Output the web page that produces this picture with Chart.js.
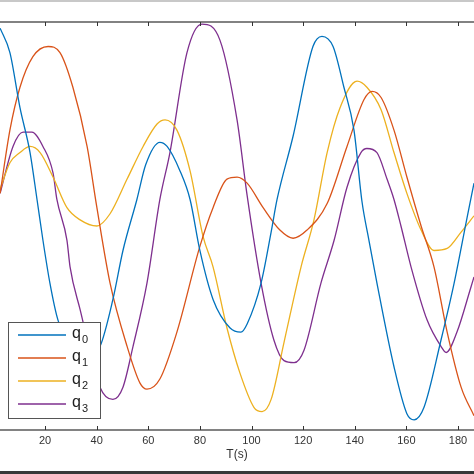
<!DOCTYPE html>
<html>
<head>
    <title>q0 - q3 over time</title>
    <style>
        body {
            margin: 0;
            background-color: #fff;
        }

        #wrap {
            position: relative;
            width: 474px;
            height: 474px;
        }

        .bar-top {
            position: absolute;
            left: 0; top: 0;
            width: 474px; height: 2px;
            background-color: #c8c8c8;
        }

        .bar-bottom {
            position: absolute;
            left: 0; bottom: 0;
            width: 474px; height: 3px;
            background-color: #3a3a3a;
        }
    </style>
</head>
<body>
    <div id="wrap">
        <canvas id="chart" width="474" height="474"></canvas>
        <div class="bar-top"></div>
        <div class="bar-bottom"></div>
    </div>

    <script src="https://cdn.jsdelivr.net/npm/chart.js"></script>
    <script>
// values (time in s, amplitude in plot units)
const xTicks = [20, 40, 60, 80, 100, 120, 140, 160, 180];
const seriesLabels = ['q₀', 'q₁', 'q₂', 'q₃'];
const seriesColors = ['#0072BD', '#D95319', '#EDB120', '#7E2F8E'];

const q0T = [2.6, 6.4, 10.3, 14.2, 16.9, 19.2, 21.9, 25.0, 33.6, 41.3, 46.3, 50.2, 55.6, 59.0, 64.5, 67.3, 72.3, 76.2, 80.0, 85.1, 91.7, 95.9, 98.3, 103.7, 107.6, 109.9, 116.1, 123.8, 127.3, 131.6, 135.8, 139.7, 142.8, 145.5, 148.6, 155.2, 160.2, 163.0, 166.8, 173.4, 178.5, 183.5, 186.2];
const q0V = [0.97, 0.85, 0.58, 0.36, 0.13, -0.07, -0.28, -0.46, -0.66, -0.59, -0.36, -0.12, 0.13, 0.30, 0.41, 0.39, 0.27, 0.13, -0.12, -0.36, -0.50, -0.52, -0.48, -0.28, -0.03, 0.13, 0.44, 0.88, 0.93, 0.88, 0.68, 0.47, 0.12, -0.07, -0.28, -0.69, -0.92, -0.95, -0.89, -0.56, -0.28, 0.04, 0.21];

const q1T = [2.6, 6.4, 10.3, 15.3, 21.2, 25.8, 30.8, 36.3, 40.1, 45.2, 51.8, 56.8, 59.5, 64.5, 71.1, 80.0, 85.1, 90.5, 94.4, 98.3, 104.5, 111.0, 116.1, 121.5, 129.3, 137.0, 143.6, 146.7, 150.2, 155.2, 160.2, 165.7, 170.7, 175.8, 181.2, 186.2];
const q1V = [0.16, 0.47, 0.68, 0.83, 0.88, 0.85, 0.68, 0.39, 0.09, -0.28, -0.59, -0.77, -0.80, -0.75, -0.52, -0.10, 0.09, 0.23, 0.24, 0.21, 0.09, -0.02, -0.06, -0.02, 0.11, 0.39, 0.62, 0.66, 0.63, 0.47, 0.24, 0.00, -0.20, -0.52, -0.79, -0.93];

const q2T = [2.6, 6.4, 10.3, 14.2, 18.1, 23.1, 28.5, 33.6, 40.1, 45.2, 51.8, 58.0, 63.4, 66.5, 71.1, 76.2, 81.2, 85.1, 90.5, 95.5, 101.0, 104.1, 107.6, 112.6, 119.2, 124.2, 129.3, 134.3, 140.9, 144.7, 150.2, 155.2, 160.2, 165.7, 170.7, 175.8, 181.2, 186.2];
const q2V = [0.18, 0.31, 0.36, 0.39, 0.36, 0.24, 0.09, 0.03, 0.00, 0.06, 0.23, 0.39, 0.50, 0.52, 0.47, 0.27, -0.05, -0.20, -0.50, -0.72, -0.89, -0.91, -0.85, -0.57, -0.20, 0.03, 0.36, 0.58, 0.71, 0.68, 0.57, 0.36, 0.16, -0.02, -0.12, -0.11, -0.03, 0.05];

const q3T = [2.6, 7.6, 11.5, 14.9, 19.2, 23.1, 24.6, 28.5, 29.7, 33.6, 41.3, 46.3, 50.2, 54.1, 59.5, 64.5, 68.4, 75.0, 80.8, 87.8, 94.4, 98.3, 103.7, 108.7, 112.6, 116.5, 120.3, 126.9, 132.0, 137.0, 142.4, 144.7, 148.6, 152.5, 155.2, 157.9, 161.8, 168.0, 173.4, 175.4, 179.6, 185.0, 186.2];
const q3V = [0.16, 0.39, 0.46, 0.46, 0.39, 0.26, 0.13, -0.07, -0.20, -0.41, -0.79, -0.85, -0.79, -0.59, -0.28, 0.13, 0.36, 0.85, 0.99, 0.91, 0.52, 0.15, -0.28, -0.56, -0.66, -0.67, -0.61, -0.28, -0.07, 0.19, 0.36, 0.38, 0.36, 0.23, 0.13, 0.00, -0.20, -0.46, -0.59, -0.62, -0.52, -0.30, -0.25];

function toPoints(ts, vs) {
  return ts.map((t, i) => ({ x: t, y: vs[i] }));
}

const allT = [q0T, q1T, q2T, q3T];
const allV = [q0V, q1V, q2V, q3V];

const datasets = allT.map((ts, i) => ({
  label: seriesLabels[i],
  data: toPoints(ts, allV[i]),
  borderColor: seriesColors[i],
  borderWidth: 1.3,
  pointRadius: 0,
  fill: false,
  cubicInterpolationMode: 'monotone'
}));

// MATLAB-like box: lines top and bottom, ticks pointing inward
const boxPlugin = {
  id: 'box',
  afterDatasetsDraw(chart) {
    const ctx = chart.ctx;
    const area = chart.chartArea;
    const xs = chart.scales.x;
    ctx.save();
    ctx.strokeStyle = '#5a5a5a';
    ctx.lineWidth = 1.5;
    ctx.beginPath();
    ctx.moveTo(area.left, area.top);
    ctx.lineTo(area.right, area.top);
    ctx.moveTo(area.left, area.bottom);
    ctx.lineTo(area.right, area.bottom);
    ctx.stroke();
    ctx.lineWidth = 1;
    ctx.strokeStyle = '#333';
    ctx.beginPath();
    xTicks.forEach(v => {
      const px = Math.round(xs.getPixelForValue(v)) + 0.5;
      ctx.moveTo(px, area.bottom);
      ctx.lineTo(px, area.bottom - 4);
      ctx.moveTo(px, area.top);
      ctx.lineTo(px, area.top + 4);
    });
    ctx.stroke();
    ctx.restore();
  }
};

// legend box in the lower left corner
const legendBoxPlugin = {
  id: 'legendBox',
  afterDraw(chart) {
    const ctx = chart.ctx;
    const x0 = 8, y0 = 322, w = 92, h = 96;
    ctx.save();
    ctx.fillStyle = '#fff';
    ctx.fillRect(x0, y0, w, h);
    ctx.strokeStyle = '#555';
    ctx.lineWidth = 1;
    ctx.strokeRect(x0 + 0.5, y0 + 0.5, w, h);
    chart.data.datasets.forEach((ds, i) => {
      const y = 335 + i * 23;
      ctx.strokeStyle = ds.borderColor;
      ctx.lineWidth = 1.3;
      ctx.beginPath();
      ctx.moveTo(18, y);
      ctx.lineTo(66, y);
      ctx.stroke();
      ctx.fillStyle = '#222';
      ctx.textBaseline = 'alphabetic';
      ctx.font = '16px "Liberation Sans", Arial, sans-serif';
      ctx.fillText(ds.label.charAt(0), 72, y + 3);
      ctx.font = '11px "Liberation Sans", Arial, sans-serif';
      ctx.fillText(String(i), 82, y + 8);
    });
    ctx.restore();
  }
};

const ctx = document.getElementById('chart').getContext('2d');
new Chart(ctx, {
  type: 'line',
  data: { datasets: datasets },
  options: {
    responsive: false,
    animation: false,
    layout: { padding: { top: 22, left: 0, right: 0, bottom: 0 } },
    plugins: {
      legend: { display: false },
      tooltip: { enabled: false }
    },
    scales: {
      x: {
        type: 'linear',
        min: 2.56,
        max: 186.2,
        afterBuildTicks: scale => {
          scale.ticks = xTicks.map(v => ({ value: v }));
        },
        afterFit: scale => {
          scale.height = 44;
        },
        grid: { display: false, drawTicks: false },
        border: { display: false },
        ticks: {
          padding: 4,
          color: '#333',
          font: { family: '"Liberation Sans", Arial, sans-serif', size: 11 }
        },
        title: {
          display: true,
          text: 'T(s)',
          color: '#333',
          padding: { top: 0, bottom: 12 },
          font: { family: '"Liberation Sans", Arial, sans-serif', size: 12 }
        }
      },
      y: {
        display: false,
        min: -1,
        max: 1
      }
    }
  },
  plugins: [boxPlugin, legendBoxPlugin]
});
    </script>
</body>
</html>
